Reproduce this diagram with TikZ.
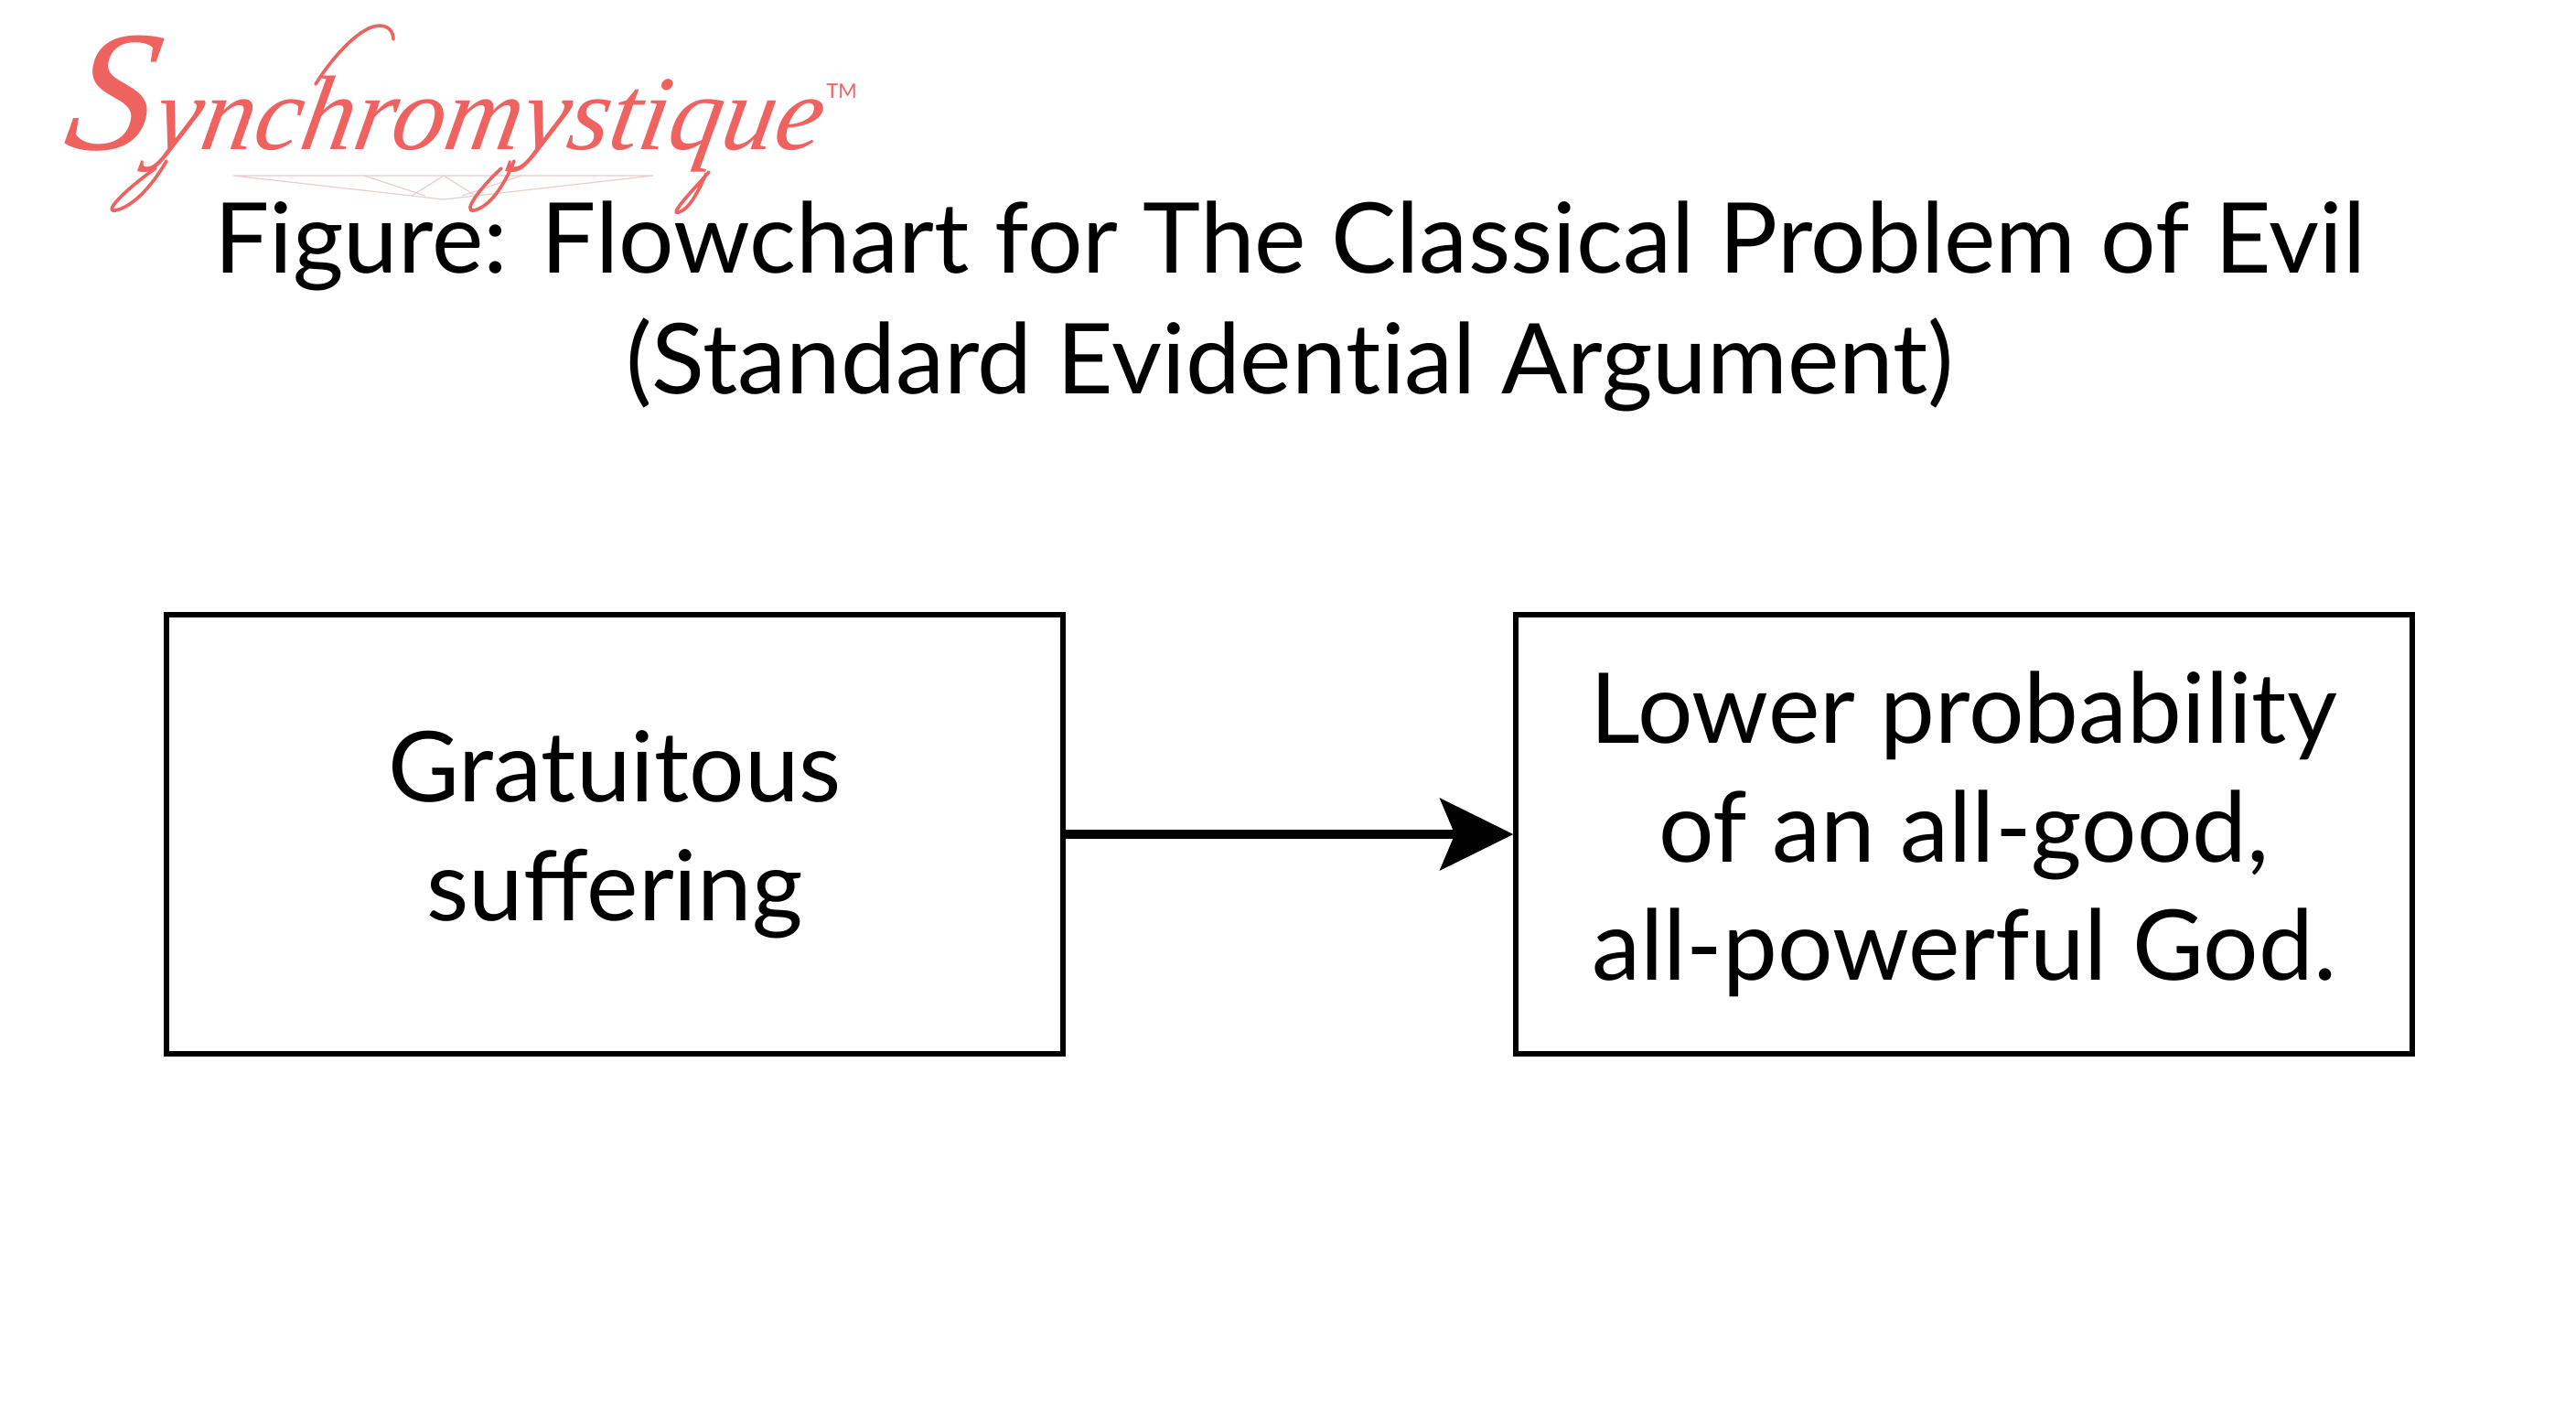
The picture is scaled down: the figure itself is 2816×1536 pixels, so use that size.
\documentclass[tikz,border=0pt]{standalone}
\usepackage{fontspec}
\usetikzlibrary{arrows.meta}
\setmainfont{Lato}
\newfontfamily\logofont[ItalicFont={Liberation Serif Italic},FakeSlant=0.18]{Liberation Serif Italic}
\definecolor{logored}{RGB}{238,98,96}
\definecolor{logopale}{RGB}{236,205,205}
\tikzset{every picture/.style={line width=0.75pt}}
\tikzset{
  flowbox/.style={draw=black,line width=1.3pt,minimum width=245pt,minimum height=120pt,inner sep=0pt,align=center,font=\fontsize{26.7}{32.4}\selectfont},
  flowarrow/.style={line width=2.6pt,-{Stealth[length=20pt,width=19.5pt,inset=4pt]}},
  titletext/.style={anchor=center,inner sep=0pt,align=center,font=\fontsize{26.7}{33}\selectfont},
  logotext/.style={inner sep=0pt,text=logored,anchor=base west},
  logoline/.style={draw=logopale,line width=0.3pt},
  logoswash/.style={draw=logored,line width=0.9pt,line cap=round}
}
\begin{document}
\begin{tikzpicture}[x=0.25pt,y=0.25pt,yscale=-1,xscale=1]
\useasboundingbox (0,0) rectangle (2816,1536);

%Logo lines
\draw [logoline] (255,192) -- (714,192) -- (485,218) -- cycle ;
\draw [logoline] (398,192) -- (465,214) ;
\draw [logoline] (570,192) -- (505,214) ;
\draw [logoline] (450,214) -- (485,192) -- (520,214) ;

%Logo text
\node [logotext,font=\logofont\fontsize{47}{47}\selectfont] (logoinitial) at (66,163) {S};
\node [logotext,font=\logofont\fontsize{29}{29}\selectfont] (logoname) at (logoinitial.base east) {ynchromystique};
\node [inner sep=0pt,text=logored,font=\fontsize{5.5}{5.5}\selectfont] (logotm) at (920,100) {TM};

%Logo swashes
\draw [logoswash] (170,184) .. controls (140,205) and (112,232) .. (126,230) .. controls (145,226) and (165,205) .. (182,176) ;
\draw [logoswash] (345,92) .. controls (365,60) and (395,28) .. (415,28) .. controls (425,28) and (430,35) .. (430,43) ;
\draw [logoswash] (548,184) .. controls (525,205) and (505,232) .. (518,230) .. controls (535,226) and (550,205) .. (562,176) ;
\draw [logoswash] (775,188) .. controls (760,205) and (730,236) .. (742,232) .. controls (755,228) and (765,205) .. (772,190) ;

%Title
\node [titletext] (figtitle) at (1410,335) {Figure: Flowchart for The Classical Problem of Evil\\(Standard Eviden\mbox{t}ial Argument)};

%Boxes
\node [flowbox] (suffering) at (672,912) {Gratuitous\\suffering};
\node [flowbox] (probability) at (2147,912) {Lower probability\\of an all-good,\\all-powerful God.};

%Arrow
\draw [flowarrow] (suffering) -- (probability) ;

\end{tikzpicture}
\end{document}
